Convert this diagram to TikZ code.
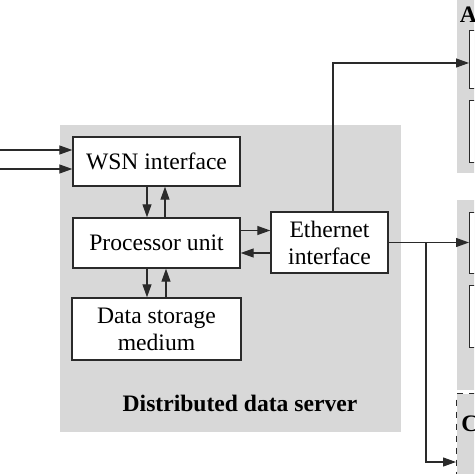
\documentclass[tikz,border=0pt]{standalone}
\usepackage{fontspec}
\setmainfont{Liberation Serif}
\usepackage{tikz}
\usepackage{xcolor}
\usetikzlibrary{arrows.meta}

\definecolor{panelgray}{HTML}{D8D8D8}
\definecolor{linegray}{HTML}{2A2A2A}

\tikzset{
  box/.style={draw=linegray, line width=0.7pt, fill=white, align=center,
    font=\fontsize{11.8}{13.5}\selectfont, inner sep=0pt},
  arr/.style={draw=linegray, line width=0.6pt, -{Triangle[length=6.5pt,width=4.5pt]}},
  panel/.style={fill=panelgray, draw=none}
}

\begin{document}
\begin{tikzpicture}[x=0.5pt, y=-0.5pt]

\useasboundingbox (0,0) rectangle (474,474);
\clip (0,0) rectangle (474,474);

% Panneaux gris
\fill[panelgray] (60,125) rectangle (401,432);
\fill[panelgray] (457,-10) rectangle (520,173);
\fill[panelgray] (457,200) rectangle (520,390);

% Serveur
\node[box, minimum width=83.5pt, minimum height=24.5pt] (wsn) at (156.5,161.5) {WSN interface};
\node[box, minimum width=83.5pt, minimum height=25pt] (proc) at (156.5,243) {Processor unit};
\node[box, minimum width=84.5pt, minimum height=31pt] (store) at (156.5,329) {Data storage\\medium};
\node[box, minimum width=58.5pt, minimum height=30.5pt] (eth) at (329.5,242.5) {Ethernet\\interface};
\node[font=\fontsize{11.8}{13.5}\selectfont\bfseries] (title) at (240,403) {Distributed data server};

% Blocs de droite
\node[anchor=west, font=\fontsize{11.8}{13.5}\selectfont\bfseries, inner sep=0pt] (labA) at (459.5,15) {A};
\node[box, anchor=north west, minimum width=30pt, minimum height=29pt] (a1) at (469,30) {};
\node[box, anchor=north west, minimum width=30pt, minimum height=31pt] (a2) at (469,100) {};
\node[box, anchor=north west, minimum width=30pt, minimum height=30.5pt] (b1) at (469,212) {};
\node[box, anchor=north west, minimum width=30pt, minimum height=31pt] (b2) at (469,285) {};
\node[box, anchor=north west, dashed, fill=panelgray, minimum width=40pt, minimum height=55pt] (cbox) at (456,393) {};
\node[anchor=west, font=\fontsize{11.8}{13.5}\selectfont\bfseries, inner sep=0pt] (labC) at (461,424) {C};

% Entrees
\coordinate (in1) at (0,150);
\coordinate (in2) at (0,169);
\draw[arr] (in1) -- (wsn.west |- in1);
\draw[arr] (in2) -- (wsn.west |- in2);

% Liaisons internes
\draw[arr] ([xshift=-4.75pt]wsn.south) -- ([xshift=-4.75pt]proc.north);
\draw[arr] ([xshift=4.25pt]proc.north) -- ([xshift=4.25pt]wsn.south);
\draw[arr] ([xshift=-4.75pt]proc.south) -- ([xshift=-4.75pt]store.north);
\draw[arr] ([xshift=4.75pt]store.north) -- ([xshift=4.75pt]proc.south);
\draw[arr] ([yshift=6.25pt]proc.east) -- ([yshift=6pt]eth.west);
\draw[arr] ([yshift=-5.25pt]eth.west) -- ([yshift=-5pt]proc.east);

% Sorties
\coordinate (up) at (333,63);
\draw[arr] (eth.north -| up) -- (up) -- (a1.west |- up);
\draw[arr] (eth.east) -- (b1.west |- eth.east);
\coordinate (br) at (426,242.5);
\coordinate (cin) at (456,462);
\draw[arr] (br) |- (cin);

\end{tikzpicture}
\end{document}
